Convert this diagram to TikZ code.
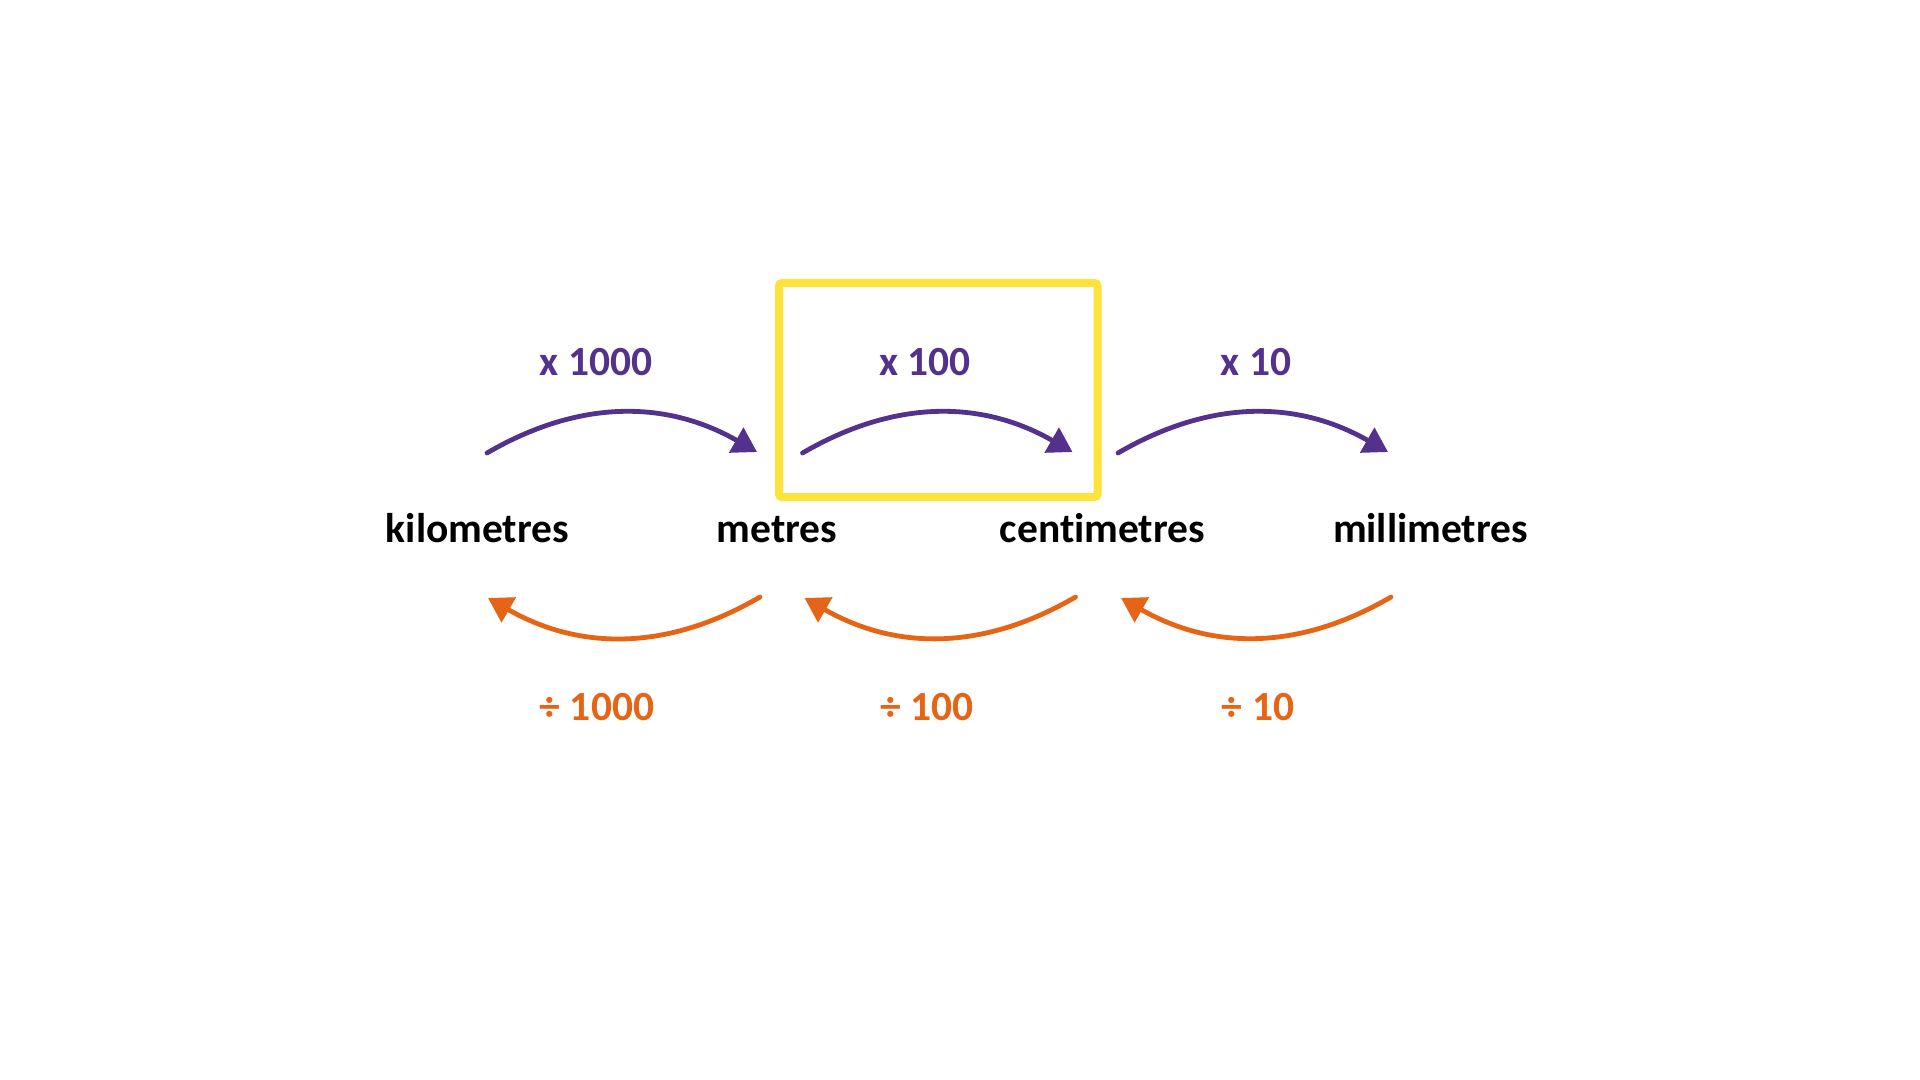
\documentclass[tikz,border=0pt]{standalone}
\usepackage{fontspec}
\setmainfont{Carlito}[Ligatures=NoCommon]
\usetikzlibrary{arrows.meta}
\definecolor{mypurple}{RGB}{84,49,140}
\definecolor{myorange}{RGB}{230,100,22}
\definecolor{myyellow}{RGB}{255,227,58}
\begin{document}
\begin{tikzpicture}[x=0.5pt,y=-0.5pt,
  unitlabel/.style={font=\fontsize{20.75pt}{24pt}\selectfont\bfseries, text=black, anchor=base, inner sep=0pt},
  mullabel/.style={unitlabel, text=mypurple},
  divlabel/.style={unitlabel, text=myorange},
  mularrow/.style={draw=mypurple, line width=2.4pt, line cap=round, -{Triangle[length=12pt,width=14pt]}, bend left=30},
  divarrow/.style={draw=myorange, line width=2.4pt, line cap=round, -{Triangle[length=12pt,width=14pt]}, bend left=30},
  highlight/.style={draw=myyellow, line width=4pt, rounded corners=1.5pt, minimum width=159.25pt, minimum height=107pt, inner sep=0pt}
]
\fill[white] (0,0) rectangle (1920,1080);
\useasboundingbox (0,0) rectangle (1920,1080);

% highlight box
\node[highlight] (hl) at (938.25,390) {};

% unit labels
\node[unitlabel] (km) at (477.5,542) {kilometres};
\node[unitlabel] (m)  at (777,542) {metres};
\node[unitlabel] (cm) at (1102.5,542) {centimetres};
\node[unitlabel] (mm) at (1430.5,542) {millimetres};

% multiply labels
\node[mullabel] (x1000) at (596,375) {x 1000};
\node[mullabel] (x100)  at (925,375) {x 100};
\node[mullabel] (x10)   at (1256,375) {x 10};

% divide labels
\node[divlabel] (d1000) at (597,720) {÷ 1000};
\node[divlabel] (d100)  at (927,720) {÷ 100};
\node[divlabel] (d10)   at (1258,720) {÷ 10};

% arrow end points
\coordinate (p1s) at (487,453);   \coordinate (p1e) at (757,452);
\coordinate (p2s) at (802.5,453); \coordinate (p2e) at (1072.5,452);
\coordinate (p3s) at (1118,453);  \coordinate (p3e) at (1388,452);
\coordinate (o1s) at (760,597);   \coordinate (o1e) at (488,598);
\coordinate (o2s) at (1075.5,597);\coordinate (o2e) at (804.5,598);
\coordinate (o3s) at (1391,597);  \coordinate (o3e) at (1121,598);

\draw[mularrow] (p1s) to (p1e);
\draw[mularrow] (p2s) to (p2e);
\draw[mularrow] (p3s) to (p3e);
\draw[divarrow] (o1s) to (o1e);
\draw[divarrow] (o2s) to (o2e);
\draw[divarrow] (o3s) to (o3e);
\end{tikzpicture}
\end{document}
